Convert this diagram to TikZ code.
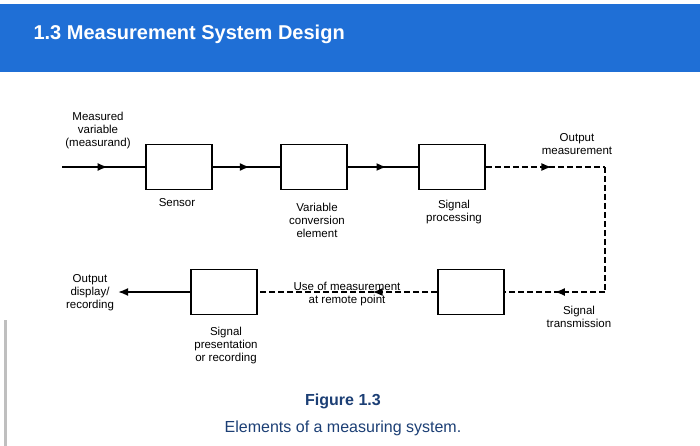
\documentclass[tikz,border=0pt]{standalone}
\usepackage{fontspec}
\setmainfont{Liberation Sans}
\usetikzlibrary{arrows.meta,decorations.markings}
\definecolor{hdr}{HTML}{1F6FD6}
\definecolor{cap}{HTML}{1C3F75}
\begin{document}
\begin{tikzpicture}[x=1pt,y=-1pt,
  blk/.style={draw,line width=1.8pt,minimum width=66pt,minimum height=45pt,inner sep=0},
  lbl/.style={align=center,font=\fontsize{11.5}{13}\selectfont,inner sep=0},
  ln/.style={line width=1.8pt},
  dl/.style={line width=1.3pt,dash pattern=on 6pt off 3pt},
  midarr/.style={postaction={decorate},decoration={markings,mark=at position #1 with {\arrow{Latex[length=10pt,width=8pt]}}}}]
\useasboundingbox (0,0) rectangle (700,446);
\fill[white] (0,0) rectangle (700,446);
\fill[hdr] (0,4) rectangle (700,72);
\fill[gray!50] (4,320) rectangle (7,446);
\node[anchor=west,text=white,font=\bfseries\fontsize{20}{22}\selectfont] (title) at (30,34) {1.3 Measurement System Design};
\node[blk] (s) at (179,167) {};
\node[blk] (v) at (314,167) {};
\node[blk] (p) at (452,167) {};
\node[blk] (t) at (471,292) {};
\node[blk] (r) at (224,292) {};
\coordinate (in) at (62,167);
\coordinate (c1) at (605,167);
\coordinate (c2) at (605,292);
\coordinate (out) at (118,292);
\draw[ln,midarr=0.55] (in) -- (s.west);
\draw[ln,midarr=0.55] (s.east) -- (v.west);
\draw[ln,midarr=0.55] (v.east) -- (p.west);
\draw[dl,midarr=0.55] (p.east) -- (c1);
\draw[dl] (c1) -- (c2);
\draw[dl,midarr=0.5] (c2) -- (t.east);
\draw[dl,midarr=0.36] (t.west) -- (r.east);
\draw[ln,-{Latex[length=10pt,width=8pt]}] (r.west) -- (out);
\node[lbl] (l1) at (98,131) {Measured\\variable\\(measurand)};
\node[lbl] (l2) at (577,144) {Output\\measurement};
\node[lbl] (l3) at (177,203) {Sensor};
\node[lbl] (l4) at (317,220) {Variable\\conversion\\element};
\node[lbl] (l5) at (454,212) {Signal\\processing};
\node[lbl] (l6) at (90,293) {Output\\display/\\recording};
\node[lbl] (l7) at (347,294) {Use of measurement\\at remote point};
\node[lbl] (l8) at (579,317) {Signal\\transmission};
\node[lbl] (l9) at (226,346) {Signal\\presentation\\or recording};
\node[font=\bfseries\fontsize{16}{18}\selectfont,text=cap] (f1) at (343,401) {Figure 1.3};
\node[font=\fontsize{16}{18}\selectfont,text=cap] (f2) at (343,428) {Elements of a measuring system.};
\end{tikzpicture}
\end{document}
